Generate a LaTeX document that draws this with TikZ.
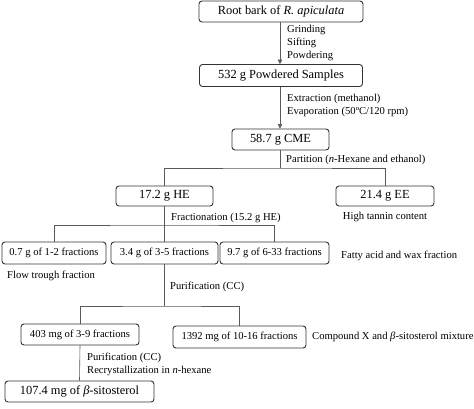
\documentclass[tikz,border=0pt]{standalone}
\usepackage{fontspec}
\setmainfont{Liberation Serif}
\usetikzlibrary{arrows.meta}
\begin{document}
\begin{tikzpicture}[x=1pt,y=-1pt,
  box/.style={draw=black!80,line width=0.9pt,rounded corners=3pt,inner sep=0pt,anchor=center},
  bigbox/.style={box,font=\fontsize{12.4}{14}\selectfont},
  smallbox/.style={box,font=\fontsize{10.6}{12}\selectfont},
  lab/.style={inner sep=0pt,font=\fontsize{10.6}{13}\selectfont,align=left},
  conn/.style={draw=black!65,line width=0.6pt},
  arr/.style={conn,-{Triangle[length=4.5pt,width=4.5pt]}}]
\useasboundingbox (0,0) rectangle (474,408);
% boxes
\node[bigbox,minimum width=164pt,minimum height=21pt] (root) at (281,11.5) {Root bark of \textit{R. apiculata}};
\node[bigbox,minimum width=163pt,minimum height=22pt] (powder) at (281,75.5) {532 g Powdered Samples};
\node[bigbox,minimum width=97pt,minimum height=21pt] (cme) at (280.5,139.5) {58.7 g CME};
\node[bigbox,minimum width=97pt,minimum height=20pt] (he) at (164.5,196) {17.2 g HE};
\node[bigbox,minimum width=98pt,minimum height=20pt] (ee) at (385,196) {21.4 g EE};
\node[smallbox,minimum width=104pt,minimum height=22pt] (f1) at (54,253) {0.7 g of 1-2 fractions};
\node[smallbox,minimum width=107pt,minimum height=22pt] (f2) at (164.5,253) {3.4 g of 3-5 fractions};
\node[smallbox,minimum width=109pt,minimum height=22pt] (f3) at (274.5,253) {9.7 g of 6-33 fractions};
\node[smallbox,minimum width=118pt,minimum height=21pt] (m403) at (80,334.5) {403 mg of 3-9 fractions};
\node[smallbox,minimum width=133pt,minimum height=22pt] (m1392) at (239.5,337) {1392 mg of 10-16 fractions};
\node[bigbox,minimum width=149pt,minimum height=21pt] (sito) at (79.5,391.5) {107.4 mg of \textit{β}-sitosterol};
% junctions
\coordinate (j1) at (280,168);
\coordinate (j2) at (164.5,225);
\coordinate (j3) at (164.5,306);
% connectors
\draw[arr] (root.south -| 280,0) -- (powder.north -| 280,0);
\draw[arr] (powder.south -| 280,0) -- (cme.north -| 280,0);
\draw[conn] (cme.south -| j1) -- (j1);
\draw[conn] (he.north) |- (j1) -| (ee.north);
\draw[conn] (he.south) -- (j2);
\draw[conn] (f1.north) |- (j2) -| (f3.north);
\draw[conn] (j2) -- (f2.north);
\draw[conn] (f2.south) -- (j3);
\draw[conn] (m403.north) |- (j3) -| (m1392.north);
\draw[conn] (m403.south) -- (sito.north);
% labels
\node[lab,anchor=west] (l1) at (287,42.5) {Grinding\\Sifting\\Powdering};
\node[lab,anchor=west] (l2) at (287,105.5) {Extraction (methanol)\\Evaporation (50ºC/120 rpm)};
\node[lab,anchor=west] (l3) at (286,160) {Partition (\textit{n}-Hexane and ethanol)};
\node[lab] (l4) at (385,217) {High tannin content};
\node[lab,anchor=west] (l5) at (171,218) {Fractionation (15.2 g HE)};
\node[lab,anchor=west] (l6) at (341,256) {Fatty acid and wax fraction};
\node[lab,anchor=west] (l7) at (7,275.5) {Flow trough fraction};
\node[lab,anchor=west] (l8) at (170,287) {Purification (CC)};
\node[lab,anchor=west] (l9) at (312,337) {Compound X and \textit{β}-sitosterol mixture};
\node[lab,anchor=west] (l10) at (87,364) {Purification (CC)\\Recrystallization in \textit{n}-hexane};
\end{tikzpicture}
\end{document}
